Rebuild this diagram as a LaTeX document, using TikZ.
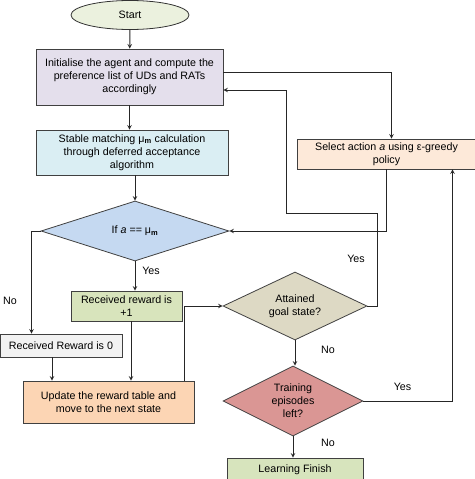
\documentclass[tikz,border=0pt]{standalone}
\usepackage{fontspec}
\setmainfont{Liberation Sans}
\usetikzlibrary{shapes, arrows}
\definecolor{startfill}{HTML}{EBF1DE}
\definecolor{initfill}{HTML}{E4DFEC}
\definecolor{stablefill}{HTML}{DAEEF3}
\definecolor{iffill}{HTML}{C5D9F1}
\definecolor{selectfill}{HTML}{FDE9D9}
\definecolor{rewonefill}{HTML}{D8E4BC}
\definecolor{rewzerofill}{HTML}{F2F2F2}
\definecolor{updatefill}{HTML}{FCD5B4}
\definecolor{goalfill}{HTML}{DDD9C4}
\definecolor{trainfill}{HTML}{DA9694}
\definecolor{finishfill}{HTML}{D7E4BD}
\tikzstyle{startstop} = [ellipse, inner sep=0pt, draw=black!80, line width=0.8pt, fill=startfill]
\tikzstyle{process} = [rectangle, inner sep=0pt, align=center, draw=black!75, line width=0.8pt]
\tikzstyle{decision} = [diamond, aspect=2, inner sep=0pt, align=center, draw=black!75, line width=0.8pt]
\tikzstyle{arrow} = [line width=1pt, black!85, ->, >=stealth]

\begin{document}
\begin{tikzpicture}[x=1pt, y=-1pt, font=\fontsize{10.7}{13}\selectfont]
    \useasboundingbox (0,0) rectangle (474,479);
    \node (start) [startstop, minimum width=118pt, minimum height=29pt] at (130,15) {Start};
    \node (init) [process, fill=initfill, minimum width=187pt, minimum height=56pt] at (129.5,77) {Initialise the agent and compute the\\preference list of UDs and RATs\\accordingly};
    \node (stable) [process, fill=stablefill, minimum width=192pt, minimum height=45pt] at (132,152.5) {Stable matching μ\textsubscript{\textbf{m}} calculation\\through deferred acceptance\\algorithm};
    \node (ifdiam) [decision, fill=iffill, minimum width=188pt, minimum height=60pt] at (135,231) {If \textit{a} == μ\textsubscript{\textbf{m}}};
    \node (select) [process, fill=selectfill, minimum width=179pt, minimum height=30pt] at (386.5,154) {Select action \textit{a} using ε-greedy\\policy};
    \node (rewone) [process, fill=rewonefill, minimum width=111pt, minimum height=30pt] at (126.5,306) {Received reward is\\+1};
    \node (rewzero) [process, fill=rewzerofill, minimum width=122pt, minimum height=23pt] at (61,345.5) {Received Reward is 0};
    \node (update) [process, fill=updatefill, minimum width=171pt, minimum height=42pt] at (108.5,402) {Update the reward table and\\move to the next state};
    \node (goal) [decision, fill=goalfill, minimum width=144pt, minimum height=68pt] at (295,306) {Attained\\goal state?};
    \node (train) [decision, fill=trainfill, minimum width=140pt, minimum height=70pt] at (293,401) {Training\\episodes\\left?};
    \node (finish) [process, fill=finishfill, minimum width=136pt, minimum height=24pt] at (295,470) {Learning Finish};

    \node (yesif) at (151,271) {Yes};
    \node (noif) at (10,301) {No};
    \node (yesgoal) at (356,259) {Yes};
    \node (nogoal) at (328,350) {No};
    \node (yestrain) at (402.5,387) {Yes};
    \node (notrain) at (328,443) {No};

    \coordinate (loopcorner) at (286,213);

    \draw [arrow] (start) -- (init);
    \draw [arrow] (init.south) -- (init.south |- stable.north);
    \draw [arrow] (stable.south -| ifdiam.north) -- (ifdiam.north);
    \draw [arrow] ([yshift=5pt]init.east) -| ([xshift=5pt]select.north);
    \draw [arrow] (select.south) |- (ifdiam.east);
    \draw [arrow] (ifdiam.south) -- (ifdiam.south |- rewone.north);
    \draw [arrow] (ifdiam.west) -| ([xshift=-29.5pt]rewzero.north);
    \draw [arrow] ([xshift=-9pt]rewzero.south) -- ([xshift=-9pt]rewzero.south |- update.north);
    \draw [arrow] ([xshift=4.5pt]rewone.south) -- ([xshift=4.5pt]rewone.south |- update.north);
    \draw [arrow] ([xshift=75.5pt]update.north) |- (goal.west);
    \draw [arrow] (goal.east) -- ++(10,0) |- (loopcorner) |- ([yshift=-13pt]init.east);
    \draw [arrow] (goal.south) -- (goal.south |- train.north);
    \draw [arrow] (train.east) -| ([xshift=66pt]select.south);
    \draw [arrow] (train.south) -- (train.south |- finish.north);
  \end{tikzpicture}
\end{document}
